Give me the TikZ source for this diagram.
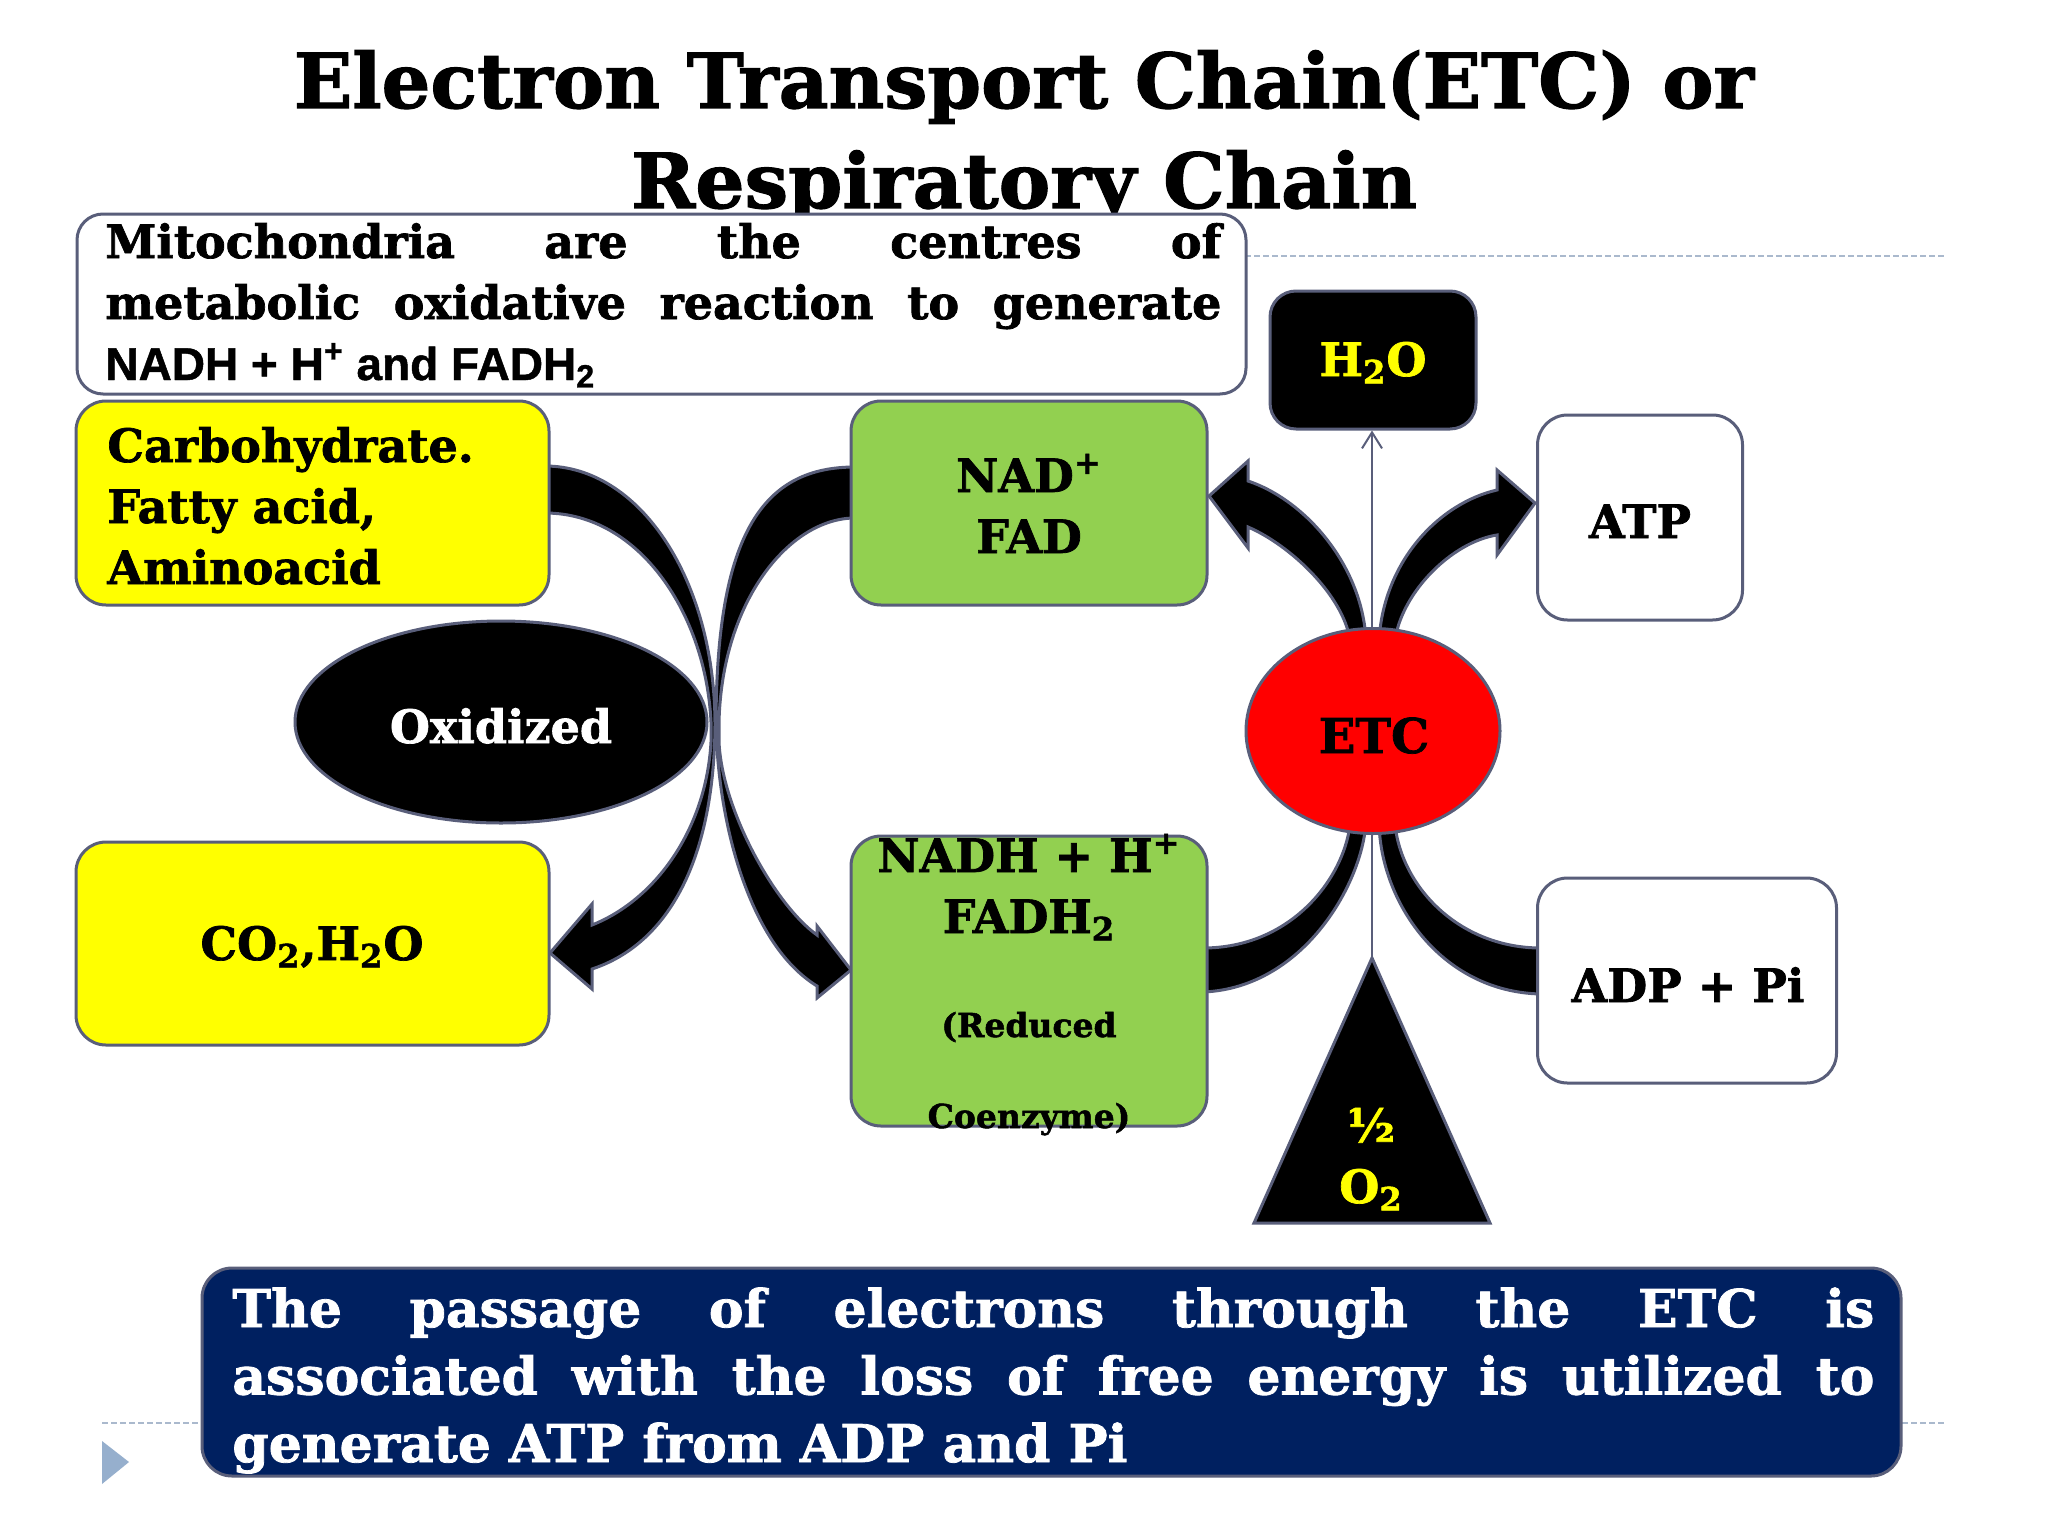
\documentclass[tikz,border=0pt]{standalone}
\usepackage{fontspec}
\usepackage{graphicx}
\setmainfont{DejaVu Serif}[BoldFeatures={FakeBold=1.5}]
\newfontfamily\sansb{Liberation Sans}[BoldFeatures={FakeBold=1}]
\usetikzlibrary{shapes.geometric,arrows.meta}
\definecolor{olc}{RGB}{89,94,122}
\definecolor{grn}{RGB}{146,208,80}
\definecolor{navy}{RGB}{0,32,96}
\definecolor{yel}{RGB}{255,255,0}
\definecolor{dashc}{RGB}{170,185,205}
\definecolor{bul}{RGB}{150,175,205}
\newsavebox\jbox
\newcommand\jline[2]{\sbox\jbox{#2}\ifdim\wd\jbox>#1\relax\resizebox{#1}{\height}{\usebox\jbox}\else\makebox[#1][s]{#2}\fi}
\newcommand\fitw[2]{\resizebox{#1}{\height}{#2}}
\newcommand\ctr[1]{\vtop{\halign{\hfil##\hfil\cr#1\crcr}}}
\newcommand\lft[1]{\vtop{\halign{##\hfil\cr#1\crcr}}}
\newcommand\bodyfont{\fontsize{23pt}{30.5pt}\selectfont\bfseries}
\newcommand\titlefont{\fontsize{38pt}{50pt}\selectfont\bfseries}
\newcommand\botfont{\fontsize{26pt}{33.75pt}\selectfont\bfseries}
\newcommand\smallfnt{\fontsize{16.5pt}{20pt}\selectfont}
\begin{document}
\begin{tikzpicture}[x=0.5pt,y=-0.5pt,
  ol/.style={draw=olc, line width=1.5pt},
  rbox/.style={ol, rectangle, rounded corners=15pt, inner sep=0pt},
  oval/.style={ol, ellipse, inner sep=0pt},
  band/.style={fill=black, draw=olc, line width=1.5pt, line join=miter},
  txt/.style={inner sep=0pt, font=\bodyfont},
  dashline/.style={draw=dashc, line width=1pt, dash pattern=on 3pt off 1.5pt},
  thinarrow/.style={draw=olc, line width=1pt, -{Straight Barb[length=8pt,width=10pt]}}]
\useasboundingbox[fill=white] (0,0) rectangle (2048,1536);

% dashed slide rules
\draw[dashline] (102,256) -- (1946,256);
\draw[dashline] (102,1423) -- (1946,1423);

% title
\node[txt, anchor=base, font=\titlefont] (title) at (1024,108)
  {\ctr{\fitw{730pt}{Electron Transport Chain(ETC) or}\cr\fitw{393pt}{Respiratory Chain}}};

% top text box
\node[rbox, fill=white, minimum width=584.5pt, minimum height=90pt, rounded corners=13pt] (topbox) at (661.5,304) {};
\node[txt, anchor=base west] (topT) at (105,258)
  {\lft{\jline{558pt}{Mitochondria are the centres of}\cr
        \jline{558pt}{metabolic oxidative reaction to generate}\cr
        {\sansb NADH + H\textsuperscript{+} and FADH\textsubscript{2}}}};

% left curved arrows
\draw[band] (545,466) .. controls (640,466) and (715,580) .. (715,725)
  .. controls (714,865) and (665,945) .. (592,969)
  -- (592,989) -- (550,953) -- (592,904) -- (592,925)
  .. controls (655,900) and (706,830) .. (711,742)
  -- (711,722)
  .. controls (706,615) and (640,513) .. (545,513) -- cycle;
\draw[band] (855,467) .. controls (765,467) and (716,530) .. (716,725)
  .. controls (718,825) and (750,945) .. (817,986)
  -- (817,998) -- (851,970) -- (817,926) -- (817,935)
  .. controls (775,905) and (722,810) .. (719,742)
  -- (719,722)
  .. controls (722,600) and (790,518) .. (855,518) -- cycle;

% right curved arrows (through ETC)
\draw[band] (1203,992) .. controls (1305,988) and (1364,880) .. (1366,820)
  -- (1366,640)
  .. controls (1362,565) and (1305,500) .. (1248,481)
  -- (1248,461) -- (1209,496) -- (1248,548) -- (1248,527)
  .. controls (1290,545) and (1343,595) .. (1350,640)
  -- (1350,825)
  .. controls (1343,880) and (1290,948) .. (1203,948) -- cycle;
\draw[band] (1541,994) .. controls (1440,992) and (1379,900) .. (1379,820)
  -- (1379,640)
  .. controls (1384,560) and (1440,503) .. (1497,490)
  -- (1497,470) -- (1535,503) -- (1497,555) -- (1497,535)
  .. controls (1452,542) and (1402,592) .. (1395,640)
  -- (1395,825)
  .. controls (1402,888) and (1460,948) .. (1541,948) -- cycle;

% left side boxes
\node[rbox, fill=yel, minimum width=236.5pt, minimum height=102pt] (carb) at (312.5,503) {};
\node[txt, anchor=base west] (carbT) at (107,462) {\lft{Carbohydrate.\cr Fatty acid,\cr Aminoacid}};
\node[oval, fill=black, minimum width=206pt, minimum height=101pt] (oxid) at (501,722) {};
\node[txt, anchor=base, text=white] (oxidT) at (501,743) {Oxidized};
\node[rbox, fill=yel, minimum width=236.5pt, minimum height=101.5pt] (co2) at (312.5,943.5) {};
\node[txt, anchor=base] (co2T) at (312,960) {CO\textsubscript{2},H\textsubscript{2}O};

% coenzyme boxes
\node[rbox, fill=grn, minimum width=178pt, minimum height=102pt] (nad) at (1029,503) {};
\node[txt, anchor=base] (nadT) at (1029,492) {\ctr{NAD\textsuperscript{+}\cr FAD}};
\node[rbox, fill=grn, minimum width=178pt, minimum height=145pt] (nadh) at (1029,981) {};
\node[txt, anchor=base] (nadhT) at (1029,872)
  {\ctr{NADH + H\textsuperscript{+}\cr FADH\textsubscript{2}\cr\noalign{\vskip21.5pt}
        {\smallfnt (Reduced}\cr\noalign{\vskip15pt}{\smallfnt Coenzyme)}}};

% right side
\node[rbox, fill=black, minimum width=103pt, minimum height=69pt, rounded corners=13pt] (h2o) at (1373,360) {};
\node[txt, anchor=base, text=yel] (h2oT) at (1373,376) {H\textsubscript{2}O};
\node[rbox, fill=white, minimum width=102.5pt, minimum height=102.5pt] (atp) at (1640,517.5) {};
\node[txt, anchor=base] (atpT) at (1640,538) {ATP};
\node[rbox, fill=white, minimum width=149.5pt, minimum height=102.5pt] (adp) at (1687,980.5) {};
\node[txt, anchor=base] (adpT) at (1688,1002) {ADP + Pi};

\coordinate (apex) at (1372,958);
\draw[thinarrow] (apex) -- (apex |- h2o.south);
\node[oval, fill=red, minimum width=127pt, minimum height=102.5pt] (etc) at (1373,731) {};
\node[txt, anchor=base, font=\fontsize{24pt}{30pt}\selectfont\bfseries] (etcT) at (1374,753) {ETC};
\draw[ol, fill=black] (apex) -- (1490,1223) -- (1254,1223) -- cycle;
\node[txt, anchor=base, text=yel] (o2T) at (1371,1142) {\ctr{½\cr O\textsubscript{2}}};

% bottom box
\node[rbox, fill=navy, minimum width=849.5pt, minimum height=104pt] (botbox) at (1051.5,1372) {};
\node[txt, anchor=base west, text=white, font=\botfont] (botT) at (232,1327)
  {\lft{\jline{821pt}{The passage of electrons through the ETC is}\cr
        \jline{821pt}{associated with the loss of free energy is utilized to}\cr
        generate ATP from ADP and Pi}};
\fill[bul] (102,1441) -- (129,1462) -- (102,1484) -- cycle;
\end{tikzpicture}
\end{document}
